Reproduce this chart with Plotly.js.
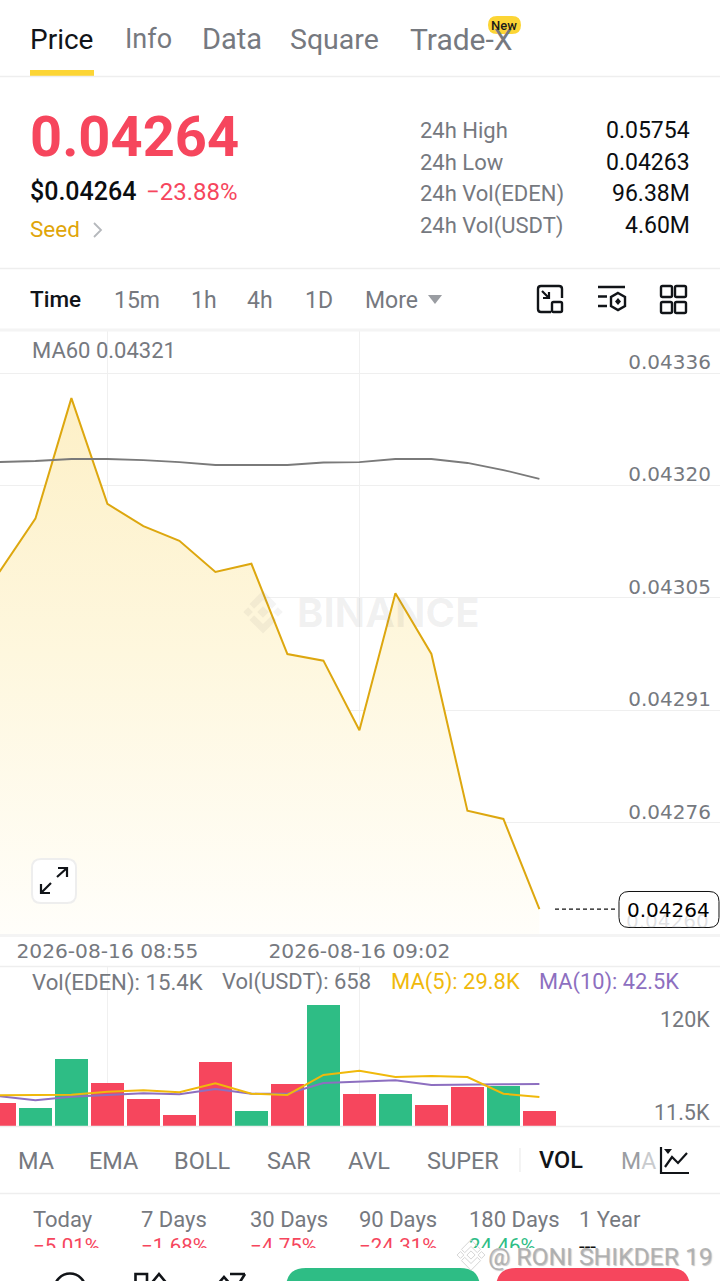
<!DOCTYPE html>
<html><head><meta charset="utf-8">
<script src="https://cdn.plot.ly/plotly-3.0.1.min.js"></script>
<style>html,body{margin:0;padding:0;background:#fff}#c{width:720px;height:1281px}</style>
</head><body><div id="c"></div>
<script>
// ---------- data ----------
const times = ['08:52','08:53','08:54','08:55','08:56','08:57','08:58','08:59','09:00','09:01','09:02','09:03','09:04','09:05','09:06','09:07'].map(t=>'2026-08-16 '+t+':00');
const price = [0.043091,0.043163,0.043326,0.043183,0.043153,0.043133,0.043091,0.043102,0.042980,0.042971,0.042877,0.043062,0.042980,0.042768,0.042757,0.042635];
const ma60  = [0.0432396,0.043241,0.0432437,0.0432437,0.0432423,0.0432396,0.0432356,0.043236,0.0432356,0.043239,0.0432396,0.0432437,0.0432437,0.0432383,0.0432288,0.0432167];
const volume = [24.1,18.8,71,45.9,28.6,11.3,68.2,15.6,44.8,128.3,34.2,33.9,22.3,41.3,42.1,15.4].map(v=>v*1000);
const volSide = ['d','u','u','d','d','d','d','u','d','u','d','u','d','d','u','d'];
const volMA5  = [32.5,32.9,33.2,36.4,37.8,35.7,45.3,34.2,32.9,54.1,58.6,51.9,53,51.9,34.2,30.7].map(v=>v*1000);
const volMA10 = [31.5,27.2,31.1,33.2,34.7,33.6,39.2,34.2,34.2,45.6,47,48.4,43.5,43.5,44.2,44.5].map(v=>v*1000);
const priceTickVals = [0.04336,0.043208,0.043056,0.042904,0.042752,0.0426];
const priceTickText = ['0.04336','0.04320','0.04305','0.04291','0.04276','0.04260'];
const dateTicks = ['2026-08-16 08:55:00','2026-08-16 09:02:00'];
const volTickVals = [120000,11500];
const volTickText = ['120K','11.5K'];
const lastPriceText = '0.04264';
const tabs = ['Price','Info','Data','Square','Trade-X'];
const statLabels = ['24h High','24h Low','24h Vol(EDEN)','24h Vol(USDT)'];
const statValues = ['0.05754','0.04263','96.38M','4.60M'];
const intervals = ['Time','15m','1h','4h','1D','More'];
const indicators = ['MA','EMA','BOLL','SAR','AVL','SUPER'];
const periods = ['Today','7 Days','30 Days','90 Days','180 Days','1 Year'];
const periodChanges = ['−5.01%','−1.68%','−4.75%','−24.31%','24.46%','---'];
const RED='#F6465D', GREEN='#2EBD85', GOLD='#E0A50A', GREY='#76797F', INK='#111418';
const SANS='Roboto, sans-serif', MONO='"DejaVu Sans", sans-serif';

// ---------- pixel helpers for page chrome ----------
const W=720,H=1281, fx=x=>x/W, fy=y=>1-y/H;
const dom=(top,bot)=>[fy(bot),fy(top)];
const annotations=[], shapes=[];
function T(text,x,y,size,color,anchor,weight,family,extra){
  annotations.push(Object.assign({text:text,x:fx(x),y:fy(y),xref:'paper',yref:'paper',showarrow:false,
    xanchor:anchor||'left',yanchor:'middle',borderpad:0,borderwidth:0,
    font:{size:size,color:color,weight:weight||400,family:family||SANS}},extra||{}));
}
function P(d,stroke,width,fill,layer){
  const path=d.replace(/(-?[\d.]+)[ ,]+(-?[\d.]+)/g,(m,a,b)=>fx(+a).toFixed(5)+','+fy(+b).toFixed(5));
  shapes.push({type:'path',xref:'paper',yref:'paper',path:path,layer:layer||'above',
    line:{color:stroke||'rgba(0,0,0,0)',width:stroke?(width||2):0},fillcolor:fill||'rgba(0,0,0,0)'});
}
function rr(x0,y0,x1,y1,r){return `M ${x0+r},${y0} L ${x1-r},${y0} Q ${x1},${y0} ${x1},${y0+r} L ${x1},${y1-r} Q ${x1},${y1} ${x1-r},${y1} L ${x0+r},${y1} Q ${x0},${y1} ${x0},${y1-r} L ${x0},${y0+r} Q ${x0},${y0} ${x0+r},${y0} Z`;}
function HL(y,c,w,x0,x1,layer){P(`M ${x0||0},${y} L ${x1||W},${y}`,c,w,null,layer);}
function bnb(cx,cy,s,c,layer,stroke){ // exchange mark built from five diamonds
  const d=(x,y,r)=>`M ${x},${y-r} L ${x+r},${y} L ${x},${y+r} L ${x-r},${y} Z `;
  P(d(cx,cy,s*.24)+d(cx-s*.62,cy,s*.2)+d(cx+s*.62,cy,s*.2),stroke,1,stroke?null:c,layer);
  const up=`M ${cx-s*.56},${cy-s*.33} L ${cx},${cy-s*.9} L ${cx+s*.56},${cy-s*.33} L ${cx+s*.37},${cy-s*.14} L ${cx},${cy-s*.5} L ${cx-s*.37},${cy-s*.14} Z`;
  const dn=`M ${cx-s*.56},${cy+s*.33} L ${cx},${cy+s*.9} L ${cx+s*.56},${cy+s*.33} L ${cx+s*.37},${cy+s*.14} L ${cx},${cy+s*.5} L ${cx-s*.37},${cy+s*.14} Z`;
  P(up,stroke,1,stroke?null:c,layer);P(dn,stroke,1,stroke?null:c,layer);
}

// ---------- header ----------
const tabX=[30,125,202,290,410], tabSize=[28,27,29,28.5,30];
tabs.forEach((t,i)=>T(t,tabX[i],39,tabSize[i],i?GREY:INK));
P(`M 30,70 L 94,70 L 94,76 L 30,76 Z`,null,0,'#FCD535');
HL(76.5,'#EEEEEE',1.5);
P(rr(488,16,521,34,9),null,0,'#FCD535');
T('New',504.5,25.5,13,'#1a1a1a','center',500);
T('0.04264',30,137,56,RED,'left',700);
T('$0.04264',30,192,25,'#0B0E11','left',500);
T('−23.88%',145.5,192,24,RED);
T('Seed',30,229,22.5,GOLD);
P('M 94,223 L 101,230 L 94,237','#B5B8BC',1.8);
const statY=[130,162,194,226];
statLabels.forEach((t,i)=>{T(t,420,statY[i],22,GREY);T(statValues[i],690,statY[i],23,'#0B0E11','right',400);});
HL(268.5,'#EEEEEE',1.5);

// ---------- interval row ----------
const intX=[30,114,191,247,305,365];
intervals.forEach((t,i)=>T(t,intX[i],i?300.5:299,i?23:22.5,i?GREY:INK,'left',i?400:500));
P('M 428,295 L 442,295 L 435,304 Z',null,0,'#9A9DA2');
P('M 551,312 L 541,312 Q 538,312 538,309 L 538,289 Q 538,286 541,286 L 559,286 Q 562,286 562,289 L 562,298',INK,2.4);
P(rr(552,302,562,312,1.5),INK,2.4);
P('M 542,291 L 549,298 M 549,292 L 549,298 L 543,298',INK,2.2);
P('M 598,287 L 625,287 M 598,296.5 L 607,296.5 M 598,306 L 607,306',INK,2.4);
P('M 618,293 L 625,297 L 625,306 L 618,310 L 611,306 L 611,297 Z',INK,2.4);
P('M 618,298 L 621,301.5 L 618,305 L 615,301.5 Z',null,0,INK);
[[661,286],[675,286],[661,302],[675,302]].forEach(p=>P(rr(p[0],p[1],p[0]+11,p[1]+11,1.5),INK,2.4));
HL(330,'#F4F4F4',3);

// ---------- chart furniture ----------
T('BINANCE',388,612,40,'rgba(110,110,110,0.09)','center',700,'Inter, sans-serif');
bnb(263,612,24,'rgba(110,110,110,0.08)','above');
T('MA60 0.04321',32,350,22,GREY);
HL(935.5,'#F4F4F4',3);
P(rr(32,859,76,903,9),'#EEEEEE',2,'#FFFFFF');
P('M 41,893 L 51,883 M 41,884 L 41,893 L 50,893 M 57,877 L 67,868 M 58,868 L 67,868 L 67,877',INK,2.2);
// latest-price marker tied to the price axis
const lastY=price[price.length-1];
shapes.push({type:'line',xref:'paper',yref:'y',x0:fx(555),x1:fx(618),y0:lastY,y1:lastY,layer:'above',line:{color:'#111',width:1.2,dash:'4px,3px'}});
P(rr(619,891.5,719,927.5,10),'#111',1,'rgba(255,255,255,0.86)');
annotations.push({text:priceTickText[5],x:fx(710),xref:'paper',y:priceTickVals[5],yref:'y',yshift:14,showarrow:false,xanchor:'right',yanchor:'middle',borderpad:0,font:{size:20,color:'rgba(118,121,127,0.22)',family:MONO}});
T(lastPriceText,710,909.5,20,'#000','right',400,MONO);

// ---------- volume header ----------
HL(966.5,'#EEEEEE',1.5);
T('Vol(EDEN): 15.4K',32,982,22.2,GREY);
T('Vol(USDT): 658',222,982,22,GREY);
T('MA(5): 29.8K',391,982,22,'#F0B90B');
T('MA(10): 42.5K',539,982,21.8,'#8D6FC0');
volTickVals.forEach((v,i)=>annotations.push({text:volTickText[i],x:fx(711),xref:'paper',y:v,yref:'y2',yshift:i?2.5:-7,showarrow:false,xanchor:'right',yanchor:'middle',borderpad:0,font:{size:21.5,color:GREY,family:SANS}}));
HL(1126.5,'#EEEEEE',1.5);

// ---------- indicator row ----------
const indX=[18,89,174,267,348,427];
indicators.forEach((t,i)=>T(t,indX[i],1161,23.5,GREY));
P('M 520,1148 L 520,1172','#E8E8E8',1);
T('VOL',539,1160,23.5,INK,'left',500);
T('M<span style="color:#C9CBCE">A</span>',621,1161,23,'#9A9DA2');
P('M 661,1147 L 661,1173 L 689,1173',INK,2.2);
P('M 665,1167 L 672,1157 L 678,1163 L 687,1153',INK,2.2);
P('M 664,1149 L 672,1149 L 668,1154 Z',null,0,INK);
HL(1193.5,'#EEEEEE',1.5);

// ---------- period row ----------
const perX=[33,141,250,359,469,579];
periods.forEach((t,i)=>T(t,perX[i],1219,22,GREY));

// ---------- footer ----------
const circ=(cx,cy,r)=>{const k=r*.55;return `M ${cx-r},${cy} C ${cx-r},${cy-k} ${cx-k},${cy-r} ${cx},${cy-r} C ${cx+k},${cy-r} ${cx+r},${cy-k} ${cx+r},${cy}`;};
P(circ(70,1289,15.5),INK,2.6);
P('M 135.5,1285 L 135.5,1274 L 147,1274 L 147,1285',INK,2.6);
P('M 150,1285 L 159,1274 L 168,1285',INK,2.6);
P('M 217,1285 L 224,1277 L 231,1285',INK,2.6);
P('M 230,1274 L 245,1274 M 245,1274 L 238,1285',INK,2.6);
P(rr(286,1268,480,1320,20),null,0,GREEN);
P(rr(496,1268,690,1320,20),null,0,RED);
bnb(471,1255,17,'rgba(255,255,255,0.5)','above','#D6D6D6');
T('@ RONI SHIKDER 19',488,1256,24.7,'rgba(170,170,170,0.85)','left',400,SANS,{});
annotations[annotations.length-1].font.shadow='1px 1px 1px rgba(120,120,120,.5)';

// ---------- traces ----------
const pxPerUnit=(935-373)/(priceTickVals[0]-priceTickVals[5]);
const yTop=priceTickVals[0]+(373-330)/pxPerUnit;
const volPerPx=1060;
const traces=[
 {type:'scatter',mode:'lines',x:times,y:price,xaxis:'x',yaxis:'y',line:{color:'#DDA70F',width:2},
  fill:'tozeroy',fillgradient:{type:'vertical',start:priceTickVals[0],stop:priceTickVals[5],
    colorscale:[[0,'rgba(253,239,196,1)'],[0.5,'rgba(254,247,222,1)'],[1,'rgba(255,254,250,1)']]},hoverinfo:'skip'},
 {type:'scatter',mode:'lines',x:times,y:ma60,xaxis:'x',yaxis:'y',line:{color:'#7A7A7A',width:1.8},hoverinfo:'skip'},
 {type:'bar',x:times,y:volume,xaxis:'x2',yaxis:'y2',width:55800,marker:{color:volSide.map(s=>s==='u'?GREEN:RED),line:{width:0}},hoverinfo:'skip'},
 {type:'scatter',mode:'lines',x:times,y:volMA10,xaxis:'x2',yaxis:'y2',line:{color:'#8D6FC0',width:2},hoverinfo:'skip'},
 {type:'scatter',mode:'lines',x:times,y:volMA5,xaxis:'x2',yaxis:'y2',line:{color:'#F0B90B',width:2},hoverinfo:'skip'},
 {type:'scatter',mode:'text',x:perX,y:periods.map(()=>1237.5),text:periodChanges,textposition:'bottom right',cliponaxis:true,
  textfont:{size:20.5,family:SANS,color:periodChanges.map((c,i)=>i===5?'#111':(c[0]==='−'?RED:GREEN))},xaxis:'x3',yaxis:'y3',hoverinfo:'skip'}
];
const xr=['2026-08-16 08:52:01','2026-08-16 09:12:01'];
const layout={width:W,height:H,margin:{l:0,r:0,t:0,b:0,pad:0},paper_bgcolor:'#fff',plot_bgcolor:'rgba(0,0,0,0)',showlegend:false,hovermode:false,bargap:0,
 xaxis:{type:'date',domain:[0,1],range:xr,anchor:'y',tickmode:'array',tickvals:dateTicks,tickformat:'%Y-%m-%d %H:%M',showgrid:true,gridcolor:'#F0F0F0',gridwidth:1,
   tickfont:{family:MONO,size:20.2,color:GREY},ticks:'',showline:false,zeroline:false,ticklabelstandoff:2},
 yaxis:{domain:dom(330,935),range:[priceTickVals[5],yTop],anchor:'x',side:'right',tickmode:'array',tickvals:priceTickVals,ticktext:priceTickText.slice(0,5).concat(''),showgrid:true,gridcolor:'#EFEFEF',gridwidth:1,
   ticklabelposition:'inside',ticklabelstandoff:6,ticklabelshift:-11,tickfont:{family:MONO,size:20,color:GREY},ticks:'',showline:false,zeroline:false},
 xaxis2:{type:'date',domain:[0,1],range:xr,anchor:'y2',tickmode:'array',tickvals:dateTicks,showticklabels:false,showgrid:true,gridcolor:'#F0F0F0',ticks:'',zeroline:false},
 yaxis2:{domain:dom(967,1126),range:[0,(1126-967)*volPerPx],anchor:'x2',showgrid:false,showticklabels:false,ticks:'',zeroline:false},
 xaxis3:{domain:[0,1],range:[0,W],anchor:'y3',visible:false},
 yaxis3:{domain:dom(1200,1248),range:[1248,1200],anchor:'x3',visible:false},
 annotations:annotations,shapes:shapes};
Plotly.newPlot('c',traces,layout,{staticPlot:true,displayModeBar:false});
</script></body></html>
